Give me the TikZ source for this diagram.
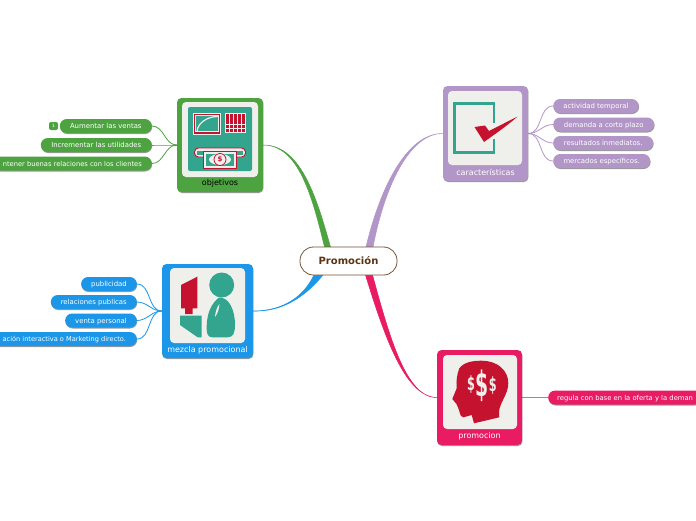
\documentclass[tikz,border=0pt]{standalone}
\usepackage{fontspec}
\setmainfont{DejaVu Sans}
\usetikzlibrary{shadows,backgrounds,calc}
\definecolor{cG}{HTML}{4EA341}
\definecolor{cB}{HTML}{1B96E8}
\definecolor{cP}{HTML}{B396C8}
\definecolor{cR}{HTML}{E91B63}
\definecolor{cBrown}{HTML}{5C3310}
\definecolor{cTeal}{HTML}{33A48E}
\definecolor{cRed}{HTML}{C4122F}
\definecolor{cPanel}{HTML}{EFF0EC}
\tikzset{
  softshadow/.style={drop shadow={shadow xshift=0.4pt,shadow yshift=-1pt,opacity=.4,fill=black}},
  pill/.style={rounded corners=7pt,minimum height=14pt,inner xsep=10pt,inner ysep=0pt,text=white,
    text height=6.4pt,text depth=1.4pt,font=\fontsize{6.9}{8}\selectfont,softshadow},
  topicbox/.style={rounded corners=4.5pt,inner sep=0pt,softshadow},
  panel/.style={fill=cPanel,rounded corners=4pt},
  toplabel/.style={font=\fontsize{8}{9}\selectfont,inner sep=0pt},
  thinlink/.style={line width=.8pt,out=180,in=0},
  thinlinkr/.style={line width=.8pt,out=0,in=180},
  bill/.style={draw=cRed,line width=.9pt,fill=cPanel},
  dollar/.style={text=cPanel,inner sep=0pt},
}
\begin{document}
\begin{tikzpicture}[x=1pt,y=-1pt]
\useasboundingbox (0,0) rectangle (696,520);
% central node
\node[draw=cBrown!85,fill=white,line width=.8pt,rounded corners=13.5pt,minimum width=97pt,minimum height=28pt,inner sep=0pt,
  text=cBrown,font=\fontsize{10}{11}\bfseries\selectfont] (center) at (348.5,261) {Promoción};
\coordinate (cg) at (327.5,247);
\coordinate (cp) at (369.5,247);
\coordinate (cb) at (318.5,275);
\coordinate (cr) at (369,275);
% topic boxes
\node[topicbox,fill=cG,minimum width=86pt,minimum height=94pt] (obj) at (220,145) {};
\node[topicbox,fill=cB,minimum width=91pt,minimum height=94pt] (mez) at (207.5,311) {};
\node[topicbox,fill=cP,minimum width=85pt,minimum height=95pt] (car) at (485.5,133.5) {};
\node[topicbox,fill=cR,minimum width=85pt,minimum height=95pt] (pro) at (479.5,397.5) {};
\node[toplabel,text=black] (objl) at (220,183.5) {objetivos};
\node[toplabel,text=white] (mezl) at (207.5,350.5) {mezcla promocional};
\node[toplabel,text=white] (carl) at (485.5,172) {características};
\node[toplabel,text=white] (prol) at (479.5,436.5) {promocion};
% left pills: objetivos
\node[pill,fill=cG,anchor=east,minimum width=92pt] (o1) at (152,126) {Aumentar las ventas};
\node[pill,fill=cG,anchor=east,minimum width=111pt] (o2) at (152,145) {Incrementar las utilidades};
\node[pill,fill=cG,anchor=east,font=\fontsize{6.7}{8}\selectfont] (o3) at (152,163.5) {ntener buenas relaciones con los clientes};
\node[fill=cG,rounded corners=2pt,minimum width=9pt,minimum height=8pt,inner sep=0pt,text=white,font=\fontsize{4.5}{5}\selectfont] (badge) at (53.5,126) {1};
% left pills: mezcla
\node[pill,fill=cB,anchor=east,minimum width=55pt] (m1) at (137,284) {publicidad};
\node[pill,fill=cB,anchor=east,minimum width=85pt] (m2) at (137,302) {relaciones publicas};
\node[pill,fill=cB,anchor=east,minimum width=71pt] (m3) at (137,320.5) {venta personal};
\node[pill,fill=cB,anchor=east,font=\fontsize{6.6}{8}\selectfont,minimum width=145pt] (m4) at (137,339) {ación interactiva o Marketing directo.};
% right pills: caracteristicas
\node[pill,fill=cP,anchor=west,minimum width=85.5pt] (c1) at (553,106) {actividad temporal};
\node[pill,fill=cP,anchor=west,minimum width=101pt] (c2) at (553,124.5) {demanda a corto plazo};
\node[pill,fill=cP,anchor=west,minimum width=100pt] (c3) at (553,143) {resultados inmediatos.};
\node[pill,fill=cP,anchor=west,minimum width=97pt] (c4) at (553,161) {mercados específicos.};
% right pill: promocion
\node[pill,fill=cR,anchor=west,inner xsep=9pt,font=\fontsize{6.8}{8}\selectfont] (p1) at (548,397.5) {regula con base en la oferta y la deman};
% connectors
\begin{pgfonlayer}{background}
\fill[white] (0,0) rectangle (696,520);
\path[fill=cG,draw=cG,line width=.5pt] (obj.east) .. controls (298,145) and (312,195) .. ($(cg)+(-3,0)$) -- ($(cg)+(3,0)$) .. controls (316,195) and (300,145) .. (obj.east);
\path[fill=cP,draw=cP,line width=.5pt] (car.west) .. controls (410,133) and (382,180) .. ($(cp)+(-3.5,0)$) -- ($(cp)+(3.5,0)$) .. controls (386,180) and (412,133) .. (car.west);
\path[fill=cB,draw=cB,line width=.5pt] (mez.east) .. controls (284,311) and (304,296) .. ($(cb)+(-4.5,0)$) -- ($(cb)+(4.5,0)$) .. controls (305,297) and (282,312) .. (mez.east);
\path[fill=cR,draw=cR,line width=.5pt] (pro.west) .. controls (405,397) and (384,335) .. ($(cr)+(-3.5,0)$) -- ($(cr)+(3.5,0)$) .. controls (389,335) and (406,398) .. (pro.west);
\foreach \n in {o1,o2,o3} \draw[thinlink,cG] (obj.west) to (\n.east);
\foreach \n in {m1,m2,m3,m4} \draw[thinlink,cB] (mez.west) to (\n.east);
\foreach \n in {c1,c2,c3,c4} \draw[thinlinkr,cP] (car.east) to (\n.west);
\draw[line width=1pt,cR!70] (pro.east) -- (p1.west);
\end{pgfonlayer}
% --- objetivos icon ---
\fill[panel] (182,102) rectangle (258,177);
\fill[cTeal,rounded corners=2pt] (188,107) rectangle (252,171);
\fill[cPanel] (193,113) rectangle (221,134.5);
\fill[cRed] (194,114) rectangle (220,133.5);
\fill[cPanel] (195.2,115.2) rectangle (218.8,132.3);
\fill[cTeal] (196.2,116.2) rectangle (217.8,131.3);
\draw[cPanel,line width=1.2pt] (197,131) .. controls (198,123) and (207,116.5) .. (218,116.5);
\fill[cPanel] (225,113) rectangle (246,133);
\foreach \i in {0,1,2,3,4} \foreach \j in {0,1,2,3,4}
  \fill[cRed] ({225.6+4.1*\i},{113.5+3.9*\j}) rectangle ++(3.2,3.1);
\draw[bill,rounded corners=4pt] (194.5,148) rectangle (245.5,157);
\fill[cTeal] (197,151) rectangle (243,154.5);
\draw[bill] (203.5,151) rectangle (236.5,168);
\fill[cTeal] (206,153.5) rectangle (234,165.5);
\fill[cPanel] (220,159.5) ellipse (11pt and 5.5pt);
\draw[cRed,line width=.8pt,fill=cPanel] (220,159.5) circle (6pt);
\node[text=cRed,inner sep=0pt,font=\fontsize{7}{8}\bfseries\selectfont] (obd) at (220,159.5) {\$};
% --- mezcla icon ---
\fill[panel] (170,268) rectangle (245,343);
\fill[cRed] (181,285) -- (197.3,276.7) -- (197.3,308.3) -- (192.7,308.3) -- (192.7,314) -- (185,314) -- (185,308.3) -- (181,308.3) -- cycle;
\fill[cTeal] (180,315.7) -- (201.7,315.7) -- (201.7,337.3) -- (197.7,337.3) -- (180,325) -- cycle;
\fill[cTeal] (221.7,285) circle (12.5pt);
\fill[cTeal] (219,297.5) .. controls (229,297) and (235,310) .. (235,325)
  .. controls (235,333) and (233,337.3) .. (228,337.3) -- (212,337.3)
  .. controls (207,337.3) and (206.5,332) .. (206.7,326) .. controls (207,312) and (212,303) .. (219,297.5) -- cycle;
\fill[cPanel] (215,317) .. controls (215.5,311) and (217,307) .. (219.5,304) .. controls (219,309) and (218,313) .. (215,317) -- cycle;
% --- caracteristicas icon ---
\fill[panel] (448,91) rectangle (522,165);
\draw[cTeal,line width=2.6pt] (494,122.7) -- (494,103.5) -- (454.5,103.5) -- (454.5,152.5) -- (494,152.5) -- (494,139);
\fill[cRed] (474.5,127) -- (485,125.5) -- (489,131) -- (517.5,116.5) .. controls (507,126) and (495,134) .. (484,142) -- cycle;
% --- promocion icon ---
\fill[panel] (443,355) rectangle (517,429);
\fill[cRed] (459.3,368.3) .. controls (464,362) and (473,360.7) .. (481.7,360.7)
  .. controls (497,360.7) and (508.3,370) .. (508.3,383.3)
  .. controls (508.3,394) and (500,402) .. (499,411.7) -- (499.3,417.3) -- (474,423.3) -- (471.7,415)
  -- (463.3,417.3) .. controls (459,416) and (460,411) .. (458.3,408.3) -- (456.5,404) -- (452.3,399) -- (456.7,388.3)
  .. controls (456,381) and (457,374) .. (459.3,368.3) -- cycle;
\node[dollar,font=\fontsize{15}{16}\bfseries\selectfont] (d1) at (471,384.7) {\scalebox{.75}[1.3]{\$}};
\node[dollar,font=\fontsize{25}{26}\bfseries\selectfont] (d2) at (481.7,385.7) {\scalebox{.75}[1.4]{\$}};
\node[dollar,font=\fontsize{15}{16}\bfseries\selectfont] (d3) at (492.7,385.7) {\scalebox{.75}[1.3]{\$}};
\end{tikzpicture}
\end{document}
